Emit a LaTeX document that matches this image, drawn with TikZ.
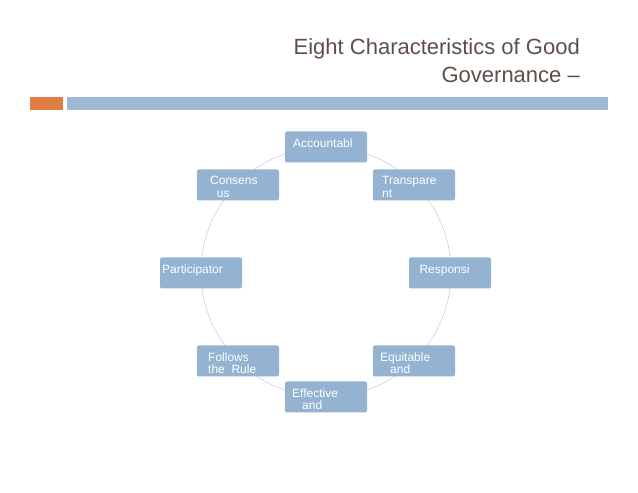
\documentclass[tikz,border=0pt]{standalone}
\usepackage{fontspec}
\setmainfont{Liberation Sans}
\definecolor{boxblue}{HTML}{94B3D2}
\definecolor{barblue}{HTML}{9DB9D5}
\definecolor{barorange}{HTML}{E07D44}
\definecolor{titlegray}{HTML}{5E4E48}
\definecolor{ringgray}{HTML}{B4C2CF}
\tikzset{
  boxstyle/.style={fill=boxblue, rounded corners=2pt, minimum width=82pt, minimum height=31pt, inner sep=0pt},
  labelstyle/.style={text=white, font=\fontsize{12}{12.5}\selectfont, align=left, anchor=north west, inner sep=0pt}
}
\begin{document}
\begin{tikzpicture}[x=1pt,y=1pt]
    \useasboundingbox (0,0) rectangle (638,493);
    % title
    \begin{scope}
    \clip (0,405) rectangle (638,493);
    \node[text=titlegray, font=\fontsize{22}{28}\selectfont, align=right, anchor=north east, inner sep=0pt] (title) at (580,455) {Eight Characteristics of Good\\Governance --};
    \end{scope}
    % bars
    \fill[barorange] (30,383) rectangle (63,396);
    \fill[barblue] (67,383) rectangle (608,396);
    % ring
    \draw[ringgray, thin] (326,221) circle (125);
    % boxes
    \foreach \name/\cx/\cy/\txt/\dx in {
        acc/326/346/{Accountabl}/-33,
        tra/414/308/{Transpare\\nt}/-32,
        res/450/220/{\ Responsi}/-34,
        equ/414/132/{Equitable\\\ \ \ and\\\ \ \ equity}/-34,
        eff/326/96/{Effective\\\ \ \ and\\\ \ \ Efficient}/-34,
        fol/238/132/{Follows\\the\ \ Rule\\\ \ of Law}/-30,
        par/201/220/{Participator}/-39,
        con/238/308/{Consens\\\ \ us\\\ \ oriented}/-28} {
      \node[boxstyle] (\name) at (\cx,\cy) {};
      \begin{scope}
      \clip (\name.south west) rectangle (\name.north east);
      \node[labelstyle] (\name-t) at ([xshift=\dx pt, yshift=-7pt]\name.north) {\txt};
      \end{scope}
    }
\end{tikzpicture}
\end{document}
